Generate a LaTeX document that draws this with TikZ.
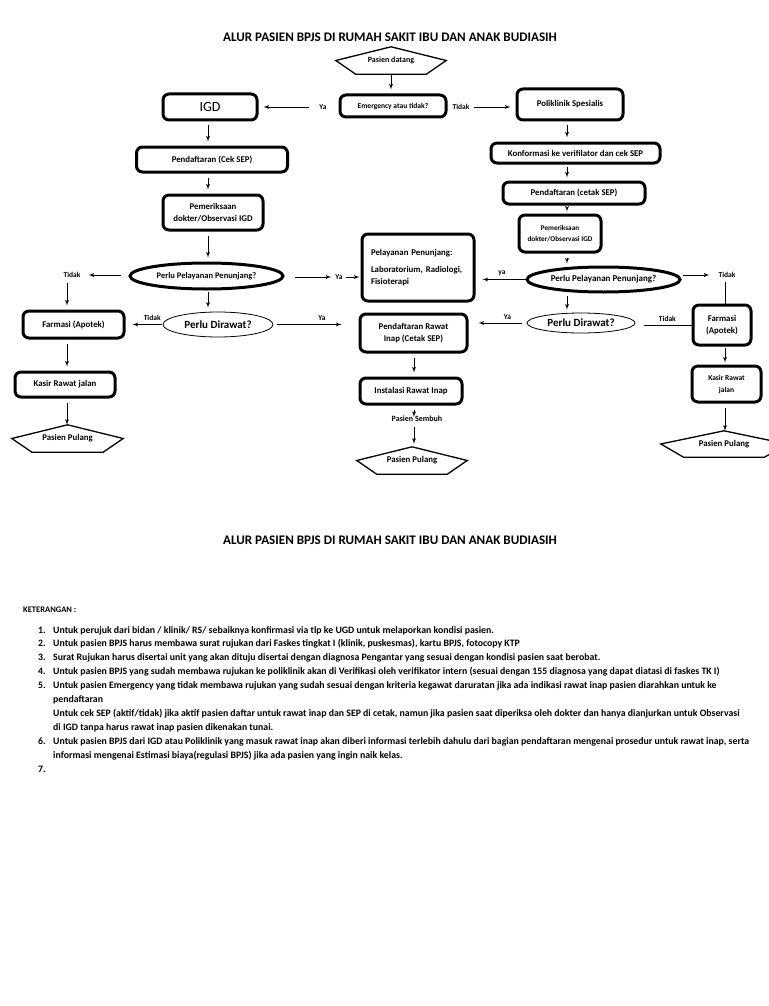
\documentclass[tikz,border=0pt]{standalone}
\usepackage{fontspec}
\setmainfont{Carlito}
\usetikzlibrary{arrows, calc, shapes.geometric}

% pentagon round a (borderless) node
\newcommand{\drawpenta}[1]{%
  \draw [end line] (#1.north) -- (#1.west)
    -- ($(#1.south west)!0.18!(#1.south east)$)
    -- ($(#1.south west)!0.82!(#1.south east)$)
    -- (#1.east) -- cycle;}

\begin{document}
\begin{tikzpicture}[
      x=1pt, y=-1pt,
      >=latex',
      heading/.style={inner sep=0pt,font=\fontsize{13.1}{15}\selectfont\bfseries},
      box/.style={draw,line width=3pt,rounded corners=6pt,align=center,inner sep=1pt,
        font=\fontsize{8.8}{12}\selectfont\bfseries},
      ask/.style={draw,ellipse,line width=3pt,inner sep=0pt,font=\fontsize{8.5}{10}\selectfont\bfseries},
      ask thin/.style={ask,line width=0.8pt,font=\fontsize{11}{13}\selectfont\bfseries},
      end node/.style={inner sep=0pt,font=\fontsize{8.8}{10}\selectfont\bfseries},
      end line/.style={line width=1.3pt},
      answer/.style={inner sep=1pt,font=\fontsize{7.5}{9}\selectfont\bfseries},
      flow/.style={->,line width=0.9pt,shorten >=4pt,shorten <=4pt},
      plain link/.style={line width=0.9pt}
      ]
      \useasboundingbox (0,0) rectangle (768,1006);
      \fill [white] (0,0) rectangle (768,1006);
      % title
      \node [heading] (title) at (390,37) {ALUR PASIEN BPJS DI RUMAH SAKIT IBU DAN ANAK BUDIASIH};
      % start
      \node [end node,font=\fontsize{8}{10}\selectfont\bfseries,minimum width=110pt,minimum height=27pt] (start) at (391,60.5) {Pasien datang};
      \drawpenta{start}
      \node [box,font=\fontsize{7.5}{10}\selectfont\bfseries,minimum width=106pt,minimum height=22pt] (emerg) at (393,106) {Emergency atau tidak?};
      \draw [flow,shorten <=1pt] (start.south) -- (start.south |- emerg.north);
      % emergency - igd
      \node [answer] (ya igd) at (323,107) {Ya};
      \node [box,font=\fontsize{14}{16}\selectfont,minimum width=94pt,minimum height=26pt] (igd) at (210,107) {IGD};
      \draw [flow,shorten <=9pt,shorten >=5pt] (ya igd.west) -- (igd.east);
      % emergency - poliklinik
      \node [answer] (tidak poli) at (461,107) {Tidak};
      \node [box,minimum width=106pt,minimum height=31pt] (poli) at (570,104.5) {Poliklinik Spesialis};
      \draw [flow,shorten <=3pt,shorten >=5pt] (tidak poli.east) -- (tidak poli.east -| poli.west);
      % igd column
      \coordinate (col igd) at (208,0);
      \node [box,minimum width=151pt,minimum height=25pt] (daftar igd) at (212,159.5) {Pendaftaran (Cek SEP)};
      \node [box,minimum width=100pt,minimum height=35pt] (periksa igd) at (213,212.5) {Pemeriksaan\\dokter/Observasi IGD};
      \node [ask,minimum width=153pt,minimum height=26pt] (penunjang igd) at (206.5,276) {Perlu Pelayanan Penunjang?};
      \node [ask thin,minimum width=110pt,minimum height=25pt] (rawat igd) at (218,324.5) {Perlu Dirawat?};
      \draw [flow] (igd.south -| col igd) -- (daftar igd.north -| col igd);
      \draw [flow] (daftar igd.south -| col igd) -- (periksa igd.north -| col igd);
      \draw [flow] (periksa igd.south -| col igd) -- (penunjang igd.north -| col igd);
      \draw [flow,shorten <=1pt] (penunjang igd.south -| col igd) -- (rawat igd.north -| col igd);
      % igd - farmasi
      \coordinate (col farmasi) at (67,0);
      \node [answer] (tidak farmasi) at (72,275) {Tidak};
      \node [box,minimum width=101pt,minimum height=27pt] (farmasi igd) at (73.5,324.5) {Farmasi (Apotek)};
      \node [box,minimum width=100pt,minimum height=25pt] (kasir igd) at (65,384.5) {Kasir Rawat jalan};
      \node [end node,minimum width=111pt,minimum height=27pt] (pulang igd) at (67.5,438.5) {Pasien Pulang};
      \drawpenta{pulang igd}
      \draw [flow,shorten <=8pt,shorten >=7pt] (tidak farmasi.east -| penunjang igd.west) -- (tidak farmasi.east);
      \draw [flow] (tidak farmasi.south -| col farmasi) -- (farmasi igd.north -| col farmasi);
      \draw [flow,shorten <=1pt,shorten >=7pt] (rawat igd.west) -- (rawat igd.west -| farmasi igd.east)
          node [answer,pos=0.28,above=2pt] (tidak rawat igd) {Tidak};
      \draw [flow] (farmasi igd.south -| col farmasi) -- (kasir igd.north -| col farmasi);
      \draw [flow,shorten >=0pt] (kasir igd.south -| col farmasi) -- (pulang igd.north -| col farmasi);
      % penunjang
      \node [box,minimum width=112pt,minimum height=67pt,align=left,text width=94pt] (penunjang) at (418,267.5)
          {Pelayanan Penunjang:\\[5pt]Laboratorium, Radiologi,\\Fisioterapi};
      \node [answer] (ya penunjang igd) at (339,277) {Ya};
      \draw [flow,shorten <=10pt,shorten >=3pt] (penunjang igd.east |- ya penunjang igd) -- (ya penunjang igd.west);
      \draw [flow,shorten <=2pt,shorten >=1pt] (ya penunjang igd.east) -- (ya penunjang igd.east -| penunjang.west);
      % rawat inap
      \coordinate (col inap) at (414,0);
      \node [box,minimum width=107pt,minimum height=38pt] (daftar inap) at (413.5,333) {Pendaftaran Rawat\\Inap (Cetak SEP)};
      \node [box,minimum width=102pt,minimum height=26pt] (instalasi) at (411,391) {Instalasi Rawat Inap};
      \node [answer,font=\fontsize{8}{10}\selectfont\bfseries] (sembuh) at (417,419) {Pasien Sembuh};
      \node [end node,minimum width=110pt,minimum height=27pt] (pulang inap) at (412,460.5) {Pasien Pulang};
      \drawpenta{pulang inap}
      \draw [flow,shorten <=4pt,shorten >=17pt] (rawat igd.east) -- (rawat igd.east -| daftar inap.west)
          node [answer,pos=0.57,above=2pt] (ya rawat igd) {Ya};
      \draw [flow] (daftar inap.south -| col inap) -- (instalasi.north -| col inap);
      \draw [flow,shorten >=2pt] (instalasi.south -| col inap) -- (sembuh.center -| col inap);
      \draw [flow,shorten <=4pt,shorten >=3pt] (sembuh.south -| col inap) -- (pulang inap.north -| col inap);
      % poliklinik column
      \coordinate (col poli) at (567,0);
      \node [box,minimum width=169pt,minimum height=20pt] (konfirmasi) at (575.5,153) {Konformasi ke verifilator dan cek SEP};
      \node [box,minimum width=142pt,minimum height=22pt] (daftar poli) at (574,193) {Pendaftaran (cetak SEP)};
      \node [box,font=\fontsize{7.2}{11}\selectfont\bfseries,minimum width=82pt,minimum height=37pt] (periksa poli) at (560,233.5) {Pemeriksaan\\dokter/Observasi IGD};
      \node [ask,font=\fontsize{9}{11}\selectfont\bfseries,minimum width=153pt,minimum height=25pt] (penunjang poli) at (603.5,279.5) {Perlu Pelayanan Penunjang?};
      \node [ask thin,minimum width=108pt,minimum height=20pt] (rawat poli) at (581,323) {Perlu Dirawat?};
      \draw [flow] (poli.south -| col poli) -- (konfirmasi.north -| col poli);
      \draw [flow,shorten <=2pt,shorten >=3pt] (konfirmasi.south -| col poli) -- (daftar poli.north -| col poli);
      \draw [flow,shorten <=2pt,shorten >=2pt] (daftar poli.south -| col poli) -- (periksa poli.north -| col poli);
      \draw [flow,shorten >=2pt] (periksa poli.south -| col poli) -- (penunjang poli.north -| col poli);
      \draw [flow,shorten <=2pt,shorten >=3pt] (penunjang poli.south -| col poli) -- (rawat poli.north -| col poli);
      \draw [flow,shorten <=0pt,shorten >=7pt] (penunjang poli.west) -- (penunjang poli.west -| penunjang.east)
          node [answer,pos=0.47,above=2pt] (ya penunjang poli) {ya};
      \draw [flow,shorten <=5pt,shorten >=10pt] (rawat poli.west) -- (rawat poli.west -| daftar inap.east)
          node [answer,pos=0.33,above=2pt] (ya rawat poli) {Ya};
      % poliklinik - farmasi
      \coordinate (col apotek) at (725,0);
      \node [answer] (tidak apotek) at (727,275) {Tidak};
      \node [box,minimum width=58pt,minimum height=40pt] (farmasi poli) at (722,325) {Farmasi\\(Apotek)};
      \node [box,font=\fontsize{7.5}{12}\selectfont\bfseries,minimum width=69pt,minimum height=36pt] (kasir poli) at (726.5,384) {Kasir Rawat\\jalan};
      \node [end node,minimum width=126pt,minimum height=26pt] (pulang poli) at (724,444) {Pasien Pulang};
      \drawpenta{pulang poli}
      \draw [flow,shorten <=1pt,shorten >=8pt] (tidak apotek.west -| penunjang poli.east) -- (tidak apotek.west);
      \draw [plain link,shorten <=3pt] (tidak apotek.south -| col apotek) -- (farmasi poli.north -| col apotek);
      \draw [plain link,shorten >=9pt] (farmasi poli.west) -- (farmasi poli.west -| rawat poli.east)
          node [answer,pos=0.43,above=2pt] (tidak rawat poli) {Tidak};
      \draw [flow,shorten <=1pt,shorten >=2pt] (farmasi poli.south -| col apotek) -- (kasir poli.north -| col apotek);
      \draw [flow,shorten >=0pt] (kasir poli.south -| col apotek) -- (pulang poli.north -| col apotek);
      % second title
      \node [heading] (title bottom) at (390,540) {ALUR PASIEN BPJS DI RUMAH SAKIT IBU DAN ANAK BUDIASIH};
      % notes
      \node [inner sep=0pt,anchor=west,font=\fontsize{8.5}{10}\selectfont\bfseries] (keterangan) at (23,610) {KETERANGAN :};
      \node [inner sep=0pt,anchor=north west,align=left,font=\fontsize{9.8}{13.9}\selectfont\bfseries] (notes) at (38,626) {%
        \makebox[15pt][l]{1.}Untuk perujuk dari bidan / klinik/ RS/ sebaiknya konfirmasi via tlp ke UGD untuk melaporkan kondisi pasien.\\
        \makebox[15pt][l]{2.}Untuk pasien BPJS harus membawa surat rujukan dari Faskes tingkat I (klinik, puskesmas), kartu BPJS, fotocopy KTP\\
        \makebox[15pt][l]{3.}Surat Rujukan harus disertai unit yang akan dituju disertai dengan diagnosa Pengantar yang sesuai dengan kondisi pasien saat berobat.\\
        \makebox[15pt][l]{4.}Untuk pasien BPJS yang sudah membawa rujukan ke poliklinik akan di Verifikasi oleh verifikator intern (sesuai dengan 155 diagnosa yang dapat diatasi di faskes TK I)\\
        \makebox[15pt][l]{5.}Untuk pasien Emergency yang tidak membawa rujukan yang sudah sesuai dengan kriteria kegawat daruratan jika ada indikasi rawat inap pasien diarahkan untuk ke\\
        \hspace*{15pt}pendaftaran\\
        \hspace*{15pt}Untuk cek SEP (aktif/tidak) jika aktif pasien daftar untuk rawat inap dan SEP di cetak, namun jika pasien saat diperiksa oleh dokter dan hanya dianjurkan untuk Observasi\\
        \hspace*{15pt}di IGD tanpa harus rawat inap pasien dikenakan tunai.\\
        \makebox[15pt][l]{6.}Untuk pasien BPJS dari IGD atau Poliklinik yang masuk rawat inap akan diberi informasi terlebih dahulu dari bagian pendaftaran mengenai prosedur untuk rawat inap, serta\\
        \hspace*{15pt}informasi mengenai Estimasi biaya(regulasi BPJS) jika ada pasien yang ingin naik kelas.\\
        \makebox[15pt][l]{7.}};
    \end{tikzpicture}
\end{document}
